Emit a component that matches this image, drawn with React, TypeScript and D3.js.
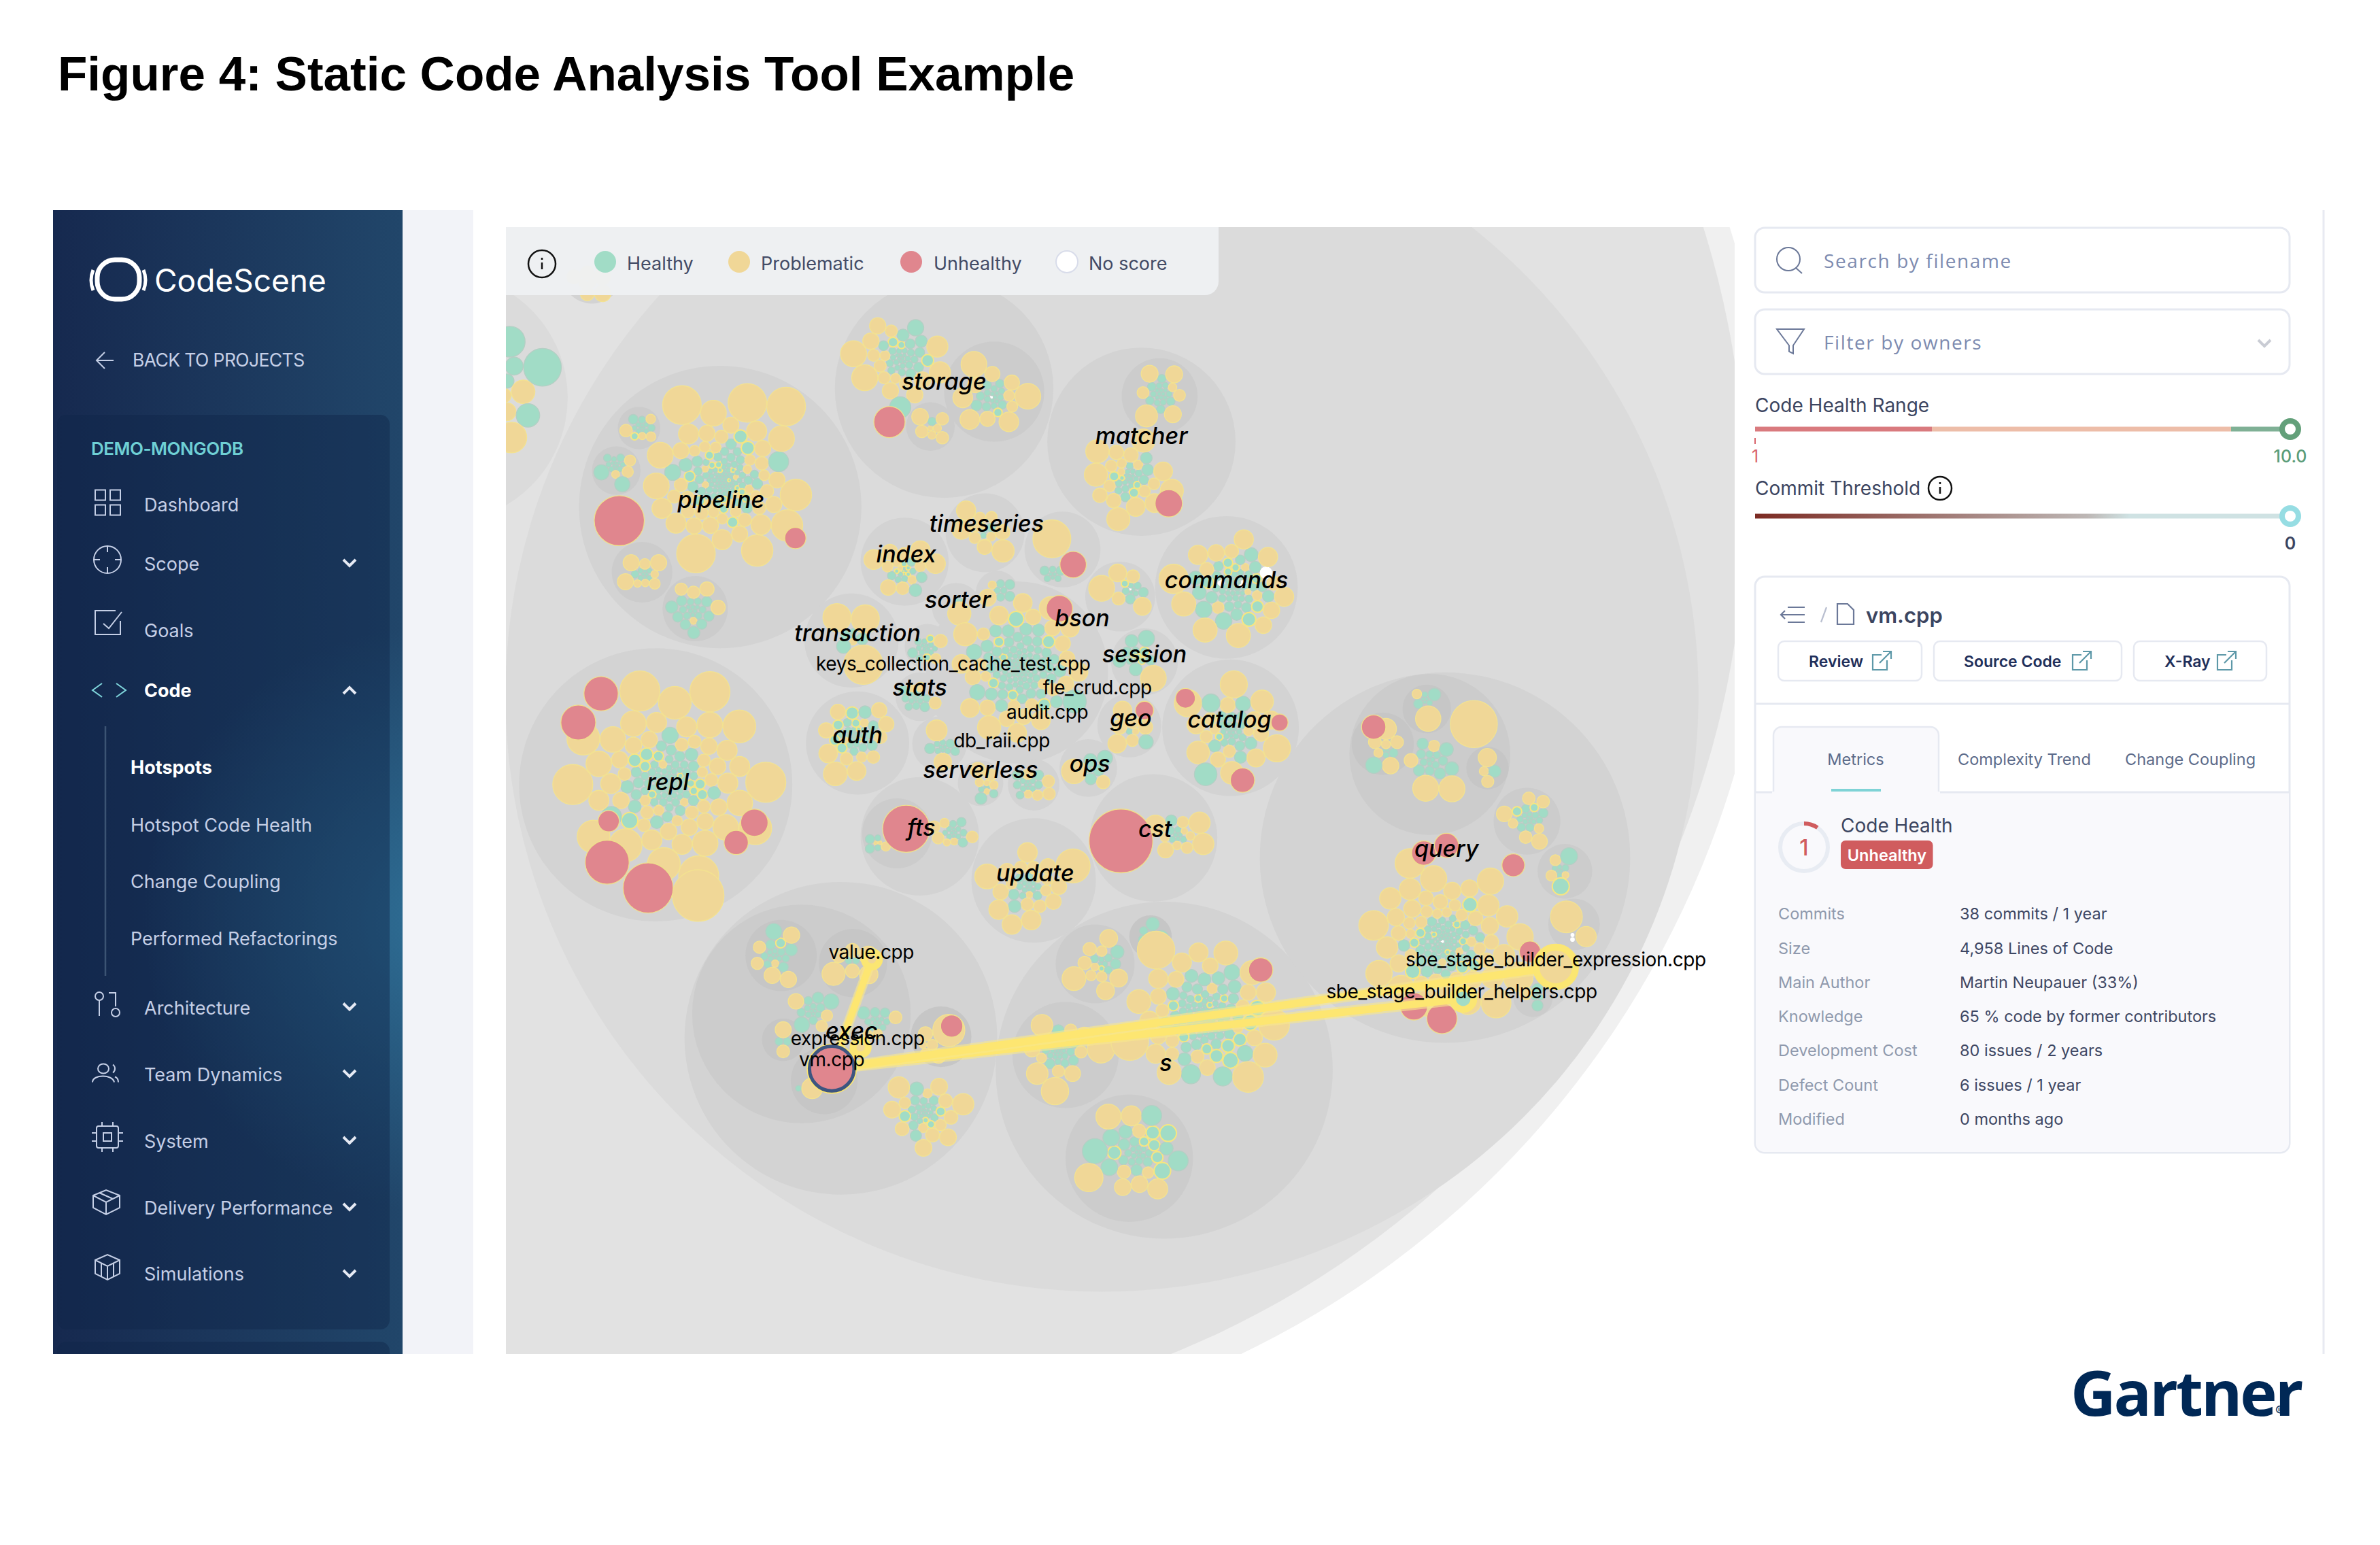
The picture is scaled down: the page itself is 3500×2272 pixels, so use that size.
import React from 'react';
import * as d3 from 'd3';

// picture is read in 1568-wide units, the scale takes it to the 3500 wide page
const u = d3.scaleLinear().domain([0, 1568]).range([0, 3500]);

type Tier = [number, string];
type Group = [number, number, number, Tier[]];

const shades = ['#f0f0f0', '#e2e2e2', '#dbdbdb', '#d3d3d3', '#cccccc', '#c6c6c6'];
const healthFill: Record<string, string> = { g: '#a1dcc6', G: '#a1dcc6', y: '#f0d797', r: '#e0868e', w: '#ffffff' };
const healthStroke: Record<string, string> = { g: '#b4cfc4', G: '#f6e680', y: '#f3e290', r: '#efe08c', w: '#ffffff' };

// cx, cy, r, level
const folders: number[][] = [
  [550, 335, 618, 0], [545, 331, 605, 1], [726, 458, 393, 2], [292, 262, 82, 2], [390, 180, 20, 3],
  [474.5, 334, 93, 3], [421, 282, 14, 4], [406, 310, 16, 4], [423, 377, 20, 4], [458, 401, 21.5, 4],
  [622, 256, 72, 3], [655, 258, 33, 4], [613, 281, 16, 4], [752, 291, 62, 3], [764, 261, 25, 4],
  [596, 370, 29, 3], [649, 351, 26, 3], [700, 362, 25, 3], [630, 400, 16, 3], [657, 390, 14, 3],
  [670, 443, 60, 3], [561, 422, 31, 3], [611, 426, 15, 3], [606, 459, 16, 3], [565, 489.5, 34, 3],
  [619, 490, 18, 3], [646, 516, 15, 3], [681, 517, 17, 3], [717, 506, 19, 3], [744, 478, 21, 3],
  [754, 436, 22, 3], [738, 393, 23, 3], [808, 387, 47, 3], [810.7, 479.5, 45, 3], [760, 552, 42, 3],
  [606, 551, 39, 3], [591, 549, 23, 4], [681, 580, 41, 3], [432, 517, 90, 3],
  [554, 684, 103, 3], [528, 668, 72, 4], [514.6, 629.5, 23.5, 5], [562, 634.5, 22.5, 5], [543, 712, 22, 5],
  [516, 685, 14, 5], [620, 683, 20, 5],
  [767, 705, 111, 3], [721.5, 635, 26, 4], [702, 695, 35, 4], [758, 617, 14, 5], [744, 763, 42, 4],
  [952, 565, 122, 3], [942, 497, 53, 4], [911, 490, 20.5, 5], [940, 467, 16, 5], [980, 506, 14, 5],
  [1006, 541, 22, 4], [1031, 574, 18, 4], [1037, 609, 17, 4], [1010, 657, 13, 4],
];

// files of each module: [size, one health letter per file]
const fileGroups: Group[] = [
  [316, 255, 56, [[1.6, 'gggggggg'], [2.3, 'gggggggyg'], [3, 'gggygyggy'], [3.8, 'gygggyyg'], [5, 'yygyg'], [6.5, 'yygyg'], [8, 'g']]],
  [388, 188, 16, [[3, 'yy'], [5, 'yyy'], [6, 'yy']]],
  [483, 313, 70, [[1.1, 'gggggggggGggggggggggggggggggg'], [1.6, 'ggGgggygggGggggggggGgg'], [2.2, 'gGggygGggygGgGgygg'], [2.9, 'gyGggyggGggyGgygGgg'], [3.7, 'ggyyGgyyGgyyGyygy'], [4.6, 'yyGyyygyyyGyy'], [5.6, 'yyyyyygyyy'], [7, 'yygyyyy'], [9, 'yyyy'], [11, 'yyy'], [13.5, 'yyyy']]],
  [421, 282, 13, [[1, 'gggg'], [1.6, 'ggggg'], [2.6, 'gyGg'], [3.4, 'yyg'], [4.5, 'y']]],
  [406, 310, 15, [[1, 'gggggg'], [1.8, 'ggggg'], [2.8, 'gyg'], [4, 'yy'], [5.5, 'gg']]],
  [423, 377, 18, [[1.2, 'gggg'], [1.8, 'gggg'], [2.8, 'gyyy'], [4, 'yy'], [6, 'yyy']]],
  [458, 401, 20, [[1.2, 'gggggg'], [2, 'ggggggy'], [3, 'gggggg'], [3.6, 'yygg'], [4.2, 'yy']]],
  [590, 239, 37, [[1, 'ggggggg'], [1.6, 'ggggggg'], [2.2, 'gggggGgg'], [3, 'ggGygygg'], [3.7, 'yyggyyGy'], [5, 'yyygyy'], [6.5, 'gyy'], [8, 'yy']]],
  [655, 258, 31, [[0.8, 'w'], [1.3, 'ggggg'], [2, 'gggggg'], [2.8, 'gggGgg'], [3.6, 'yyg'], [5, 'yyyy'], [6.5, 'yyy'], [8.5, 'yy']]],
  [613, 281, 15, [[1.8, 'y'], [3, 'yyg'], [4.5, 'yyy'], [6, 'y']]],
  [745, 315, 36, [[1.1, 'ggggggg'], [1.7, 'gGgggg'], [2.4, 'gGgyggg'], [3.2, 'gGgyGy'], [4, 'yygyyg'], [5, 'yyyy'], [6.5, 'yyy'], [8, 'yyyyy']]],
  [764, 261, 23, [[1.1, 'gggggggg'], [1.7, 'gggggg'], [2.5, 'ggyggg'], [3.5, 'yy'], [5, 'yyy'], [6.5, 'y']]],
  [596, 370, 27, [[1, 'GgGg'], [1.6, 'yGGgG'], [2.2, 'gggG'], [3, 'gyyg'], [3.8, 'yyg'], [4.5, 'yyg'], [5.5, 'yy'], [7, 'yyy']]],
  [649, 350, 25, [[1.2, 'gg'], [2, 'gy'], [3, 'ygy'], [3.8, 'yyy'], [5, 'yy'], [6.5, 'yy'], [7.5, 'y']]],
  [693.5, 376, 8.5, [[1, 'ggg'], [1.8, 'ggg'], [2.6, 'gg']]],
  [632, 403, 9, [[1, 'gg'], [7, 'y']]],
  [657, 390, 13, [[2, 'gg'], [2.6, 'ggy'], [3.2, 'gg'], [5.5, 'y']]],
  [672, 440, 52, [[1, 'gggggggggggggggggggggggg'], [1.4, 'gggggggggggggggggggggg'], [2, 'gggggGgggggggggggggg'], [2.7, 'ggGgggygggGggggyggGg'], [3.4, 'yggGyggyggyggGyg'], [4.3, 'yygyyGyygyyy'], [5.2, 'yyyyyyyy'], [6.5, 'gyyy']]],
  [561, 424, 29, [[1.1, 'gg'], [2.4, 'yg'], [3.3, 'g'], [4.2, 'g'], [5, 'g'], [10, 'yy'], [14, 'y']]],
  [611, 426, 14, [[1, 'ggggg'], [1.5, 'gggggg'], [2.1, 'GGgg'], [3, 'gy'], [4, 'y']]],
  [606, 459, 15, [[1, 'ggg'], [1.6, 'ggggg'], [2.3, 'ggggy'], [3, 'ygg'], [3.8, 'y']]],
  [564, 490, 32, [[0.9, 'gggggg'], [1.3, 'GggggG'], [1.8, 'gggggy'], [2.4, 'gGgggyg'], [3, 'yGGgGg'], [3.7, 'yyGgy'], [4.5, 'yyyy'], [5.5, 'yy'], [7, 'y']]],
  [619, 491, 17, [[1, 'ggg'], [1.6, 'gggg'], [2.5, 'gg'], [3, 'g'], [5, 'y'], [6, 'y']]],
  [646, 516, 14, [[1, 'gg'], [2, 'yyg'], [3, 'ygy'], [4.2, 'gy'], [5.5, 'y']]],
  [681, 517, 16, [[1, 'gggg'], [1.6, 'gggg'], [2.3, 'ggyg'], [3, 'yygg'], [3.6, 'yy']]],
  [717, 506, 18, [[1.5, 'g'], [3, 'gg'], [3.5, 'gy'], [4, 'g'], [6.5, 'y']]],
  [744, 480, 19, [[1.5, 'gy'], [3, 'yy'], [3.6, 'yyg'], [4.6, 'yy']]],
  [754, 436, 21, [[1, 'GGg'], [1.6, 'gGg'], [2.3, 'gGg'], [3, 'ggg'], [3.8, 'g'], [6, 'y']]],
  [738, 393, 22, [[0.6, 'w'], [1, 'gg'], [1.6, 'gg'], [2.2, 'ggG'], [3, 'gg'], [4, 'yy'], [5.5, 'yy'], [8, 'y']]],
  [808, 387, 45, [[0.9, 'gggggggggwggg'], [1.3, 'ggggwgggggg'], [1.7, 'gggyggggwg'], [2.2, 'gGggggyGg'], [2.8, 'gGggGyggg'], [3.4, 'ygGgwggG'], [4, 'yGggyyg'], [4.8, 'gyyyg'], [5.6, 'yyyy'], [7, 'yyy'], [8.5, 'y']]],
  [811, 480, 42, [[1, 'gggggg'], [1.5, 'gggggg'], [2.1, 'gggggG'], [2.8, 'ggygyg'], [3.5, 'ygggyy'], [4.3, 'yyyyg'], [5.2, 'yyyg'], [6.5, 'yyyg'], [7.8, 'yyy']]],
  [777, 550, 24, [[1.5, 'ggg'], [2.2, 'gggy'], [3, 'gyyy'], [4, 'yyg'], [5.5, 'y'], [7.5, 'yyy']]],
  [578, 556, 9, [[1, 'yy'], [1.6, 'gg'], [2.4, 'gyg']]],
  [628, 548, 17, [[1, 'gggg'], [1.5, 'ggggg'], [2.1, 'gyyg'], [2.8, 'ggy'], [3.5, 'yyy']]],
  [681, 580, 39, [[1, 'gggg'], [1.5, 'gggg'], [2.1, 'ggyg'], [2.8, 'gygg'], [3.4, 'yyyg'], [4, 'yyyyg'], [5, 'yyyyy'], [6.3, 'yyyy'], [8, 'y'], [11, 'y']]],
  [442, 515, 78, [[1, 'gggggggggggggggggggggggg'], [1.5, 'ggGggggggggggggggggg'], [2.1, 'gggGgygggGgggyggGggg'], [2.8, 'gyGgggyggGgygGgyGg'], [3.5, 'yggyGyyggyyGygyy'], [4.5, 'yyGyyygyyyyy'], [5.5, 'yyyyyygyyy'], [7, 'yyyyyyy'], [9, 'yyyyyyy'], [11, 'yyyyy']]],
  [514.6, 629.5, 22, [[1, 'ggg'], [1.6, 'gggg'], [2.4, 'gggyg'], [3.2, 'gGg'], [4, 'yyg'], [5.3, 'yyyg']]],
  [560, 636, 20, [[1.5, 'gg'], [3, 'yyy'], [4, 'yy'], [5, 'y']]],
  [536, 665, 18, [[1, 'ggg'], [1.8, 'gggg'], [2.6, 'gggg'], [3.5, 'gyy'], [4.8, 'gyg']]],
  [579, 672, 15.5, [[1, 'gggggg'], [1.6, 'gggg'], [2.4, 'ggyy'], [3.2, 'gy']]],
  [516, 685, 12, [[2.5, 'gg'], [4, 'y'], [5, 'y']]],
  [533, 717, 9, [[2, 'g'], [7, 'y']]],
  [620, 684, 18, [[2, 'y'], [3, 'yy'], [4, 'yy'], [9, 'y']]],
  [611, 731, 31, [[0.9, 'gggggg'], [1.3, 'ggggg'], [1.8, 'gGggg'], [2.4, 'ggGgg'], [3, 'gGygyg'], [3.7, 'yygG'], [4.5, 'yyyyg'], [5.5, 'yyyy'], [7, 'yy']]],
  [721.5, 635, 25, [[1.2, 'g'], [1.8, 'gGg'], [2.6, 'ggyg'], [3.5, 'gyyy'], [4.5, 'yyg'], [6, 'yyy'], [8, 'y']]],
  [702, 696, 33, [[0.9, 'gggggggg'], [1.4, 'gggggg'], [2, 'gggggg'], [2.7, 'ggggg'], [3.4, 'gggyg'], [4.2, 'ygyy'], [5.5, 'yyy'], [7.5, 'yy'], [9.5, 'yy']]],
  [758, 617, 13, [[0.7, 'w'], [1, 'ggg'], [1.6, 'gg'], [2.8, 'gg'], [4.5, 'ggg']]],
  [791, 667, 63, [[1.1, 'gggggggggggggggggggggggggg'], [1.6, 'gggggGgggggggggggggggg'], [2.2, 'gggGgggggGgggggggg'], [3, 'gGgggyggGggyggGgg'], [3.8, 'gygGggyyGgygGgy'], [4.6, 'yGgyGyyGyygy'], [5.6, 'yyyygyyg'], [7, 'yyyyy'], [9, 'yy'], [11, 'yy']]],
  [744, 763, 39, [[1, 'ggg'], [1.5, 'ggggg'], [2.1, 'gggg'], [2.8, 'gGgg'], [3.4, 'GgGgy'], [4, 'yGggGy'], [5, 'GggyGy'], [6, 'yggy'], [7.5, 'yg'], [8.5, 'y']]],
  [957, 615, 64, [[0.8, 'w'], [1, 'ggggggggggggggggggggggg'], [1.5, 'gggGgggggggGgggggggg'], [2.1, 'ggGggygggGgggygggg'], [2.8, 'gggygGggygGyggyg'], [3.5, 'gyGyygyyGyyg'], [4.4, 'yyGyyyyyGyy'], [5.2, 'yyyyyyyy'], [6.5, 'yyyyyyy'], [8, 'yyyyyyy'], [9, 'yyyy']]],
  [911, 492, 19, [[1, 'gg'], [2, 'g'], [3, 'yyg'], [4.3, 'yy'], [5.5, 'yg'], [7, 'y']]],
  [940, 467, 15, [[1, 'ggg'], [1.8, 'gg'], [3, 'gy'], [4, 'g'], [8, 'y']]],
  [948, 507, 24, [[1, 'g'], [1.5, 'gg'], [2.3, 'gggg'], [3, 'ggg'], [3.7, 'gygg'], [4.5, 'ygg'], [8.5, 'yy']]],
  [980, 506, 13, [[3, 'y'], [4, 'gy'], [6, 'y']]],
  [1006, 541, 21, [[1, 'ggg'], [1.5, 'gggg'], [2, 'ggg'], [2.6, 'gggG'], [3, 'yyGg'], [4, 'yyy'], [5, 'yy']]],
  [1031, 574, 16, [[1, 'gg'], [1.5, 'ggg'], [2.2, 'gy'], [3.5, 'yy'], [5.5, 'gG']]],
  [1010, 657, 10, [[1.5, 'gg'], [3, 'gg'], [3.5, 'y']]],
];

// files that stand out enough to be placed on their own
const hotFiles: [number, number, number, string][] = [
  [408, 343, 16.5, 'r'], [524, 354.5, 7, 'r'], [586, 278, 10.3, 'r'], [770, 331.6, 9, 'r'],
  [693, 355, 12.5, 'y'], [707, 372, 8.7, 'r'], [698, 401, 8.7, 'r'], [754, 468, 6, 'r'],
  [781, 460, 6.5, 'r'], [843, 476, 5.6, 'r'], [818.6, 514, 8, 'r'], [738.5, 554, 21, 'r'],
  [597, 546, 15.5, 'r'], [460, 590, 17, 'y'], [396, 457, 11.3, 'r'], [381, 476, 11.5, 'r'],
  [400, 568, 14.5, 'r'], [427, 585, 16.5, 'r'], [485, 555, 8, 'r'], [497, 542, 9, 'r'], [401, 541, 7, 'r'],
  [627, 676, 7.3, 'r'], [830.6, 639, 8, 'r'], [905, 479, 8, 'r'], [971, 477, 15.5, 'y'],
  [938, 562, 8, 'r'], [953, 557, 8, 'r'], [997, 570, 7.5, 'r'], [1008, 627, 7, 'r'],
  [931.5, 663, 9, 'r'], [950, 671, 10, 'r'], [1032, 604, 10.5, 'y'], [1045, 617, 6.7, 'y'],
  [1036, 616, 1, 'w'], [1036, 619, 1.2, 'w'],
];

const selectedFile = { x: 548, y: 704, r: 15.7 };
// coupled files: x, y, r, health, link width
const coupledFiles: [number, number, number, string, number][] = [
  [574.4, 632, 5, 'y', 4.5], [567, 690, 5, 'y', 4.5], [964, 658, 7, 'g', 5], [1025, 637, 13, 'y', 5],
];

const moduleNames: [string, number, number][] = [
  ['storage', 622, 251], ['pipeline', 475, 329], ['matcher', 752, 287], ['timeseries', 650, 345], ['index', 597, 365],
  ['commands', 808, 382], ['sorter', 631, 395], ['bson', 713, 407], ['transaction', 565, 417], ['session', 754, 431],
  ['stats', 606, 453], ['geo', 745, 473], ['catalog', 810, 474], ['auth', 565, 484], ['serverless', 646, 507],
  ['ops', 718, 503], ['repl', 440, 515], ['fts', 607, 545], ['cst', 761, 546], ['update', 682, 575],
  ['query', 953, 559], ['exec', 561, 679], ['s', 768, 700],
];
const fileNames: [string, number, number][] = [
  ['keys_collection_cache_test.cpp', 628, 437], ['fle_crud.cpp', 723, 453], ['audit.cpp', 690, 469], ['db_raii.cpp', 660, 488],
  ['value.cpp', 574, 627], ['expression.cpp', 565, 684], ['vm.cpp', 548, 698],
  ['sbe_stage_builder_expression.cpp', 1025, 632], ['sbe_stage_builder_helpers.cpp', 963, 653],
];

const legendItems: [string, string, number, number][] = [
  ['Healthy', 'g', 890, 922], ['Problematic', 'y', 1087, 1119], ['Unhealthy', 'r', 1340, 1373], ['No score', 'w', 1569, 1601],
];

const navItems: [string, number, number][] = [
  ['Dashboard', 751.5, 0], ['Scope', 839, 827], ['Goals', 937, 0], ['Architecture', 1492, 1479.5],
  ['Team Dynamics', 1589.5, 1578], ['System', 1688, 1676], ['Delivery Performance', 1786, 1774], ['Simulations', 1883, 1872],
];
const codeSubItems: [string, number][] = [
  ['Hotspots', 1138], ['Hotspot Code Health', 1222.5], ['Change Coupling', 1306], ['Performed Refactorings', 1390],
];

const metricLabels = ['Commits', 'Size', 'Main Author', 'Knowledge', 'Development Cost', 'Defect Count', 'Modified'];
const metricValues = ['38 commits / 1 year', '4,958 Lines of Code', 'Martin Neupauer (33%)', '65 % code by former contributors', '80 issues / 2 years', '6 issues / 1 year', '0 months ago'];
const metricRows = [1351.5, 1403, 1453, 1503, 1553, 1604, 1654];

const actionButtons: [string, number, number, number, number][] = [
  ['Review', 2615, 2826, 2660, 2754], ['Source Code', 2844, 3120, 2888, 3048], ['X-Ray', 3138, 3333, 3183, 3261],
];

function packFiles([cx, cy, r, tiers]: Group) {
  const nodes: any[] = tiers.flatMap(([size, letters]) => [...letters].map(h => ({ r: size + 0.12, size, h })));
  d3.packSiblings(nodes);
  const enc = d3.packEnclose(nodes) as { x: number; y: number; r: number };
  const k = r / enc.r;
  return nodes.map(n => ({ x: cx + (n.x - enc.x) * k, y: cy + (n.y - enc.y) * k, r: n.size * k, h: n.h }));
}

const ui = 'Inter, sans-serif';

const Chevron = ({ x, y, up, color = '#e6eaf4' }: { x: number; y: number; up?: boolean; color?: string }) => (
  <path d={up ? `M${x - 9} ${y + 5}L${x} ${y - 4}L${x + 9} ${y + 5}` : `M${x - 9} ${y - 4}L${x} ${y + 5}L${x + 9} ${y - 4}`} fill="none" stroke={color} strokeWidth={4} />
);

const Info = ({ x, y, r }: { x: number; y: number; r: number }) => (
  <g fill="none" stroke="#111" strokeWidth={2.5}>
    <circle cx={x} cy={y} r={r} />
    <path d={`M${x} ${y - 2}V${y + 8}M${x} ${y - 9}V${y - 6}`} />
  </g>
);

const External = ({ x, y }: { x: number; y: number }) => (
  <path d={`M${x + 13} ${y + 5}H${x}V${y + 27}H${x + 21}V${y + 13}M${x + 10} ${y + 17}L${x + 27} ${y}M${x + 15} ${y}H${x + 27}V${y + 11}`} fill="none" stroke="#5d98a8" strokeWidth={2.2} />
);

function NavIcon({ name, y }: { name: string; y: number }) {
  const c = '#c5cfe6';
  const s = { fill: 'none', stroke: c, strokeWidth: 2 };
  const cx = 158;
  if (name === 'Dashboard') return <g {...s}>{[0, 1].flatMap(i => [0, 1].map(j => <rect key={`${i}${j}`} x={140 + i * 22} y={y - 27 + j * 22} width={15} height={15} />))}</g>;
  if (name === 'Scope') return <g {...s}><circle cx={cx} cy={y - 12} r={20} /><path d={`M${cx} ${y - 32}v9M${cx} ${y + 8}v-9M${cx - 20} ${y - 12}h9M${cx + 20} ${y - 12}h-9`} /></g>;
  if (name === 'Goals') return <g {...s}><path d={`M170 ${y - 35}H140V${y}H177V${y - 20}M152 ${y - 16}l8 7l19 -24`} /></g>;
  if (name === 'Architecture') return <g {...s}><circle cx={146} cy={y - 23} r={6} /><path d={`M146 ${y - 17}V${y + 6}M160 ${y - 28}h10v20`} /><circle cx={170} cy={y + 1} r={6} /></g>;
  if (name === 'Team Dynamics') return <g {...s}><ellipse cx={152} cy={y - 14} rx={8} ry={7} /><path d={`M166 ${y - 20}c4 3 4 9 0 12M136 ${y + 6}c0-12 30-12 32 0M174 ${y + 6}c0-4-2-7-5-8`} /></g>;
  if (name === 'System') return <g {...s}><rect x={142} y={y - 28} width={32} height={32} rx={3} /><rect x={152} y={y - 18} width={12} height={12} /><path d={`M150 ${y - 34}v6M166 ${y - 34}v6M150 ${y + 4}v6M166 ${y + 4}v6M135 ${y - 18}h7M135 ${y - 6}h7M174 ${y - 18}h7M174 ${y - 6}h7`} /></g>;
  if (name === 'Delivery Performance') return <g {...s}><path d={`M137 ${y - 24}L156 ${y - 32}L176 ${y - 24}V${y - 6}L156 ${y + 4}L137 ${y - 6}ZM137 ${y - 24}L156 ${y - 14}L176 ${y - 24}M156 ${y - 14}V${y + 4}M146 ${y - 28}L166 ${y - 19}`} /></g>;
  return <g {...s}><path d={`M140 ${y - 26}L158 ${y - 34}L176 ${y - 26}V${y - 6}L158 ${y + 3}L140 ${y - 6}ZM140 ${y - 26}L158 ${y - 17}L176 ${y - 26}M158 ${y - 17}V${y + 3}M149 ${y - 22}V${y - 2}M167 ${y - 22}V${y - 2}`} /></g>;
}

export default function App() {
  const packed = fileGroups.flatMap(packFiles);
  const leaf = (x: number, y: number, r: number, h: string, key: string) => (
    <circle key={key} cx={u(x)} cy={u(y)} r={u(r)} fill={healthFill[h]} stroke={healthStroke[h]} strokeWidth={h === 'G' ? 2 : 1.3} />
  );
  const link = d3.line();

  return (
    <svg width={3500} height={2272} viewBox="0 0 3500 2272" style={{ position: 'absolute', left: 0, top: 0, display: 'block', background: '#fff' }}>
      <defs>
        <linearGradient id="side" x1="0" y1="0" x2="1" y2="0">
          <stop offset="0" stopColor="#16294f" />
          <stop offset="1" stopColor="#21466a" />
        </linearGradient>
        <radialGradient id="glow" gradientUnits="userSpaceOnUse" cx={640} cy={1350} r={430}>
          <stop offset="0" stopColor="#2f7097" stopOpacity={0.95} />
          <stop offset="1" stopColor="#2f7097" stopOpacity={0} />
        </radialGradient>
        <linearGradient id="commit" x1="0" y1="0" x2="1" y2="0">
          <stop offset="0" stopColor="#7c2a22" />
          <stop offset="0.62" stopColor="#bdb7b5" />
          <stop offset="0.7" stopColor="#cfe2e3" />
          <stop offset="1" stopColor="#cfe2e3" />
        </linearGradient>
        <clipPath id="mapClip"><rect x={744} y={334} width={1807} height={1657} /></clipPath>
      </defs>

      <text x={85} y={133} fontFamily="Liberation Sans, Arial, sans-serif" fontWeight={700} fontSize={71} fill="#000">Figure 4: Static Code Analysis Tool Example</text>

      {/* Sidebar */}
      <rect x={78} y={309} width={514} height={1682} fill="url(#side)" />
      <rect x={78} y={309} width={514} height={1682} fill="url(#glow)" />
      <rect x={84} y={610} width={489} height={1345} rx={14} fill="#10254a" opacity={0.45} />
      <path d="M84 1991V1987a14 14 0 0 1 14-14H559a14 14 0 0 1 14 14V1991Z" fill="#10254a" opacity={0.45} />

      <g fill="none" stroke="#fff">
        <rect x={143} y={382} width={62} height={58} rx={26} strokeWidth={7} />
        <path d="M137 397c-4 10-4 20 0 30M211 397c4 10 4 20 0 30" strokeWidth={5} />
      </g>
      <text x={227} y={429} fontFamily={ui} fontSize={46} fill="#fff">CodeScene</text>
      <path d="M167 530H142M154 518L142 530L154 542" fill="none" stroke="#c5cfe6" strokeWidth={2} />
      <text x={195} y={539} fontFamily={ui} fontSize={26.5} fill="#c5cfe6" letterSpacing={-0.6}>BACK TO PROJECTS</text>
      <text x={134} y={669} fontFamily={ui} fontSize={26} fontWeight={600} fill="#6fd0d5" letterSpacing={-0.5}>DEMO-MONGODB</text>
      {navItems.map(([name, y, cy]) => (
        <g key={name}>
          <NavIcon name={name} y={y - 4} />
          <text x={212} y={y} fontFamily={ui} fontSize={27} fill="#c5cfe6">{name}</text>
          {cy > 0 && <Chevron x={514} y={cy} />}
        </g>
      ))}
      <path d="M150 1005L136 1015L150 1025M171 1005L185 1015L171 1025" fill="none" stroke="#7fd6dc" strokeWidth={2} />
      <text x={212} y={1025} fontFamily={ui} fontSize={27} fontWeight={700} fill="#fff">Code</text>
      <Chevron x={514} y={1015} up />
      <line x1={155} y1={1068} x2={155} y2={1435} stroke="#3c5474" strokeWidth={2.5} />
      {codeSubItems.map(([name, y], i) => (
        <text key={name} x={192} y={y} fontFamily={ui} fontSize={27} fontWeight={i === 0 ? 700 : 400} fill={i === 0 ? '#fff' : '#c5cfe6'}>{name}</text>
      ))}

      <rect x={592} y={309} width={104} height={1682} fill="#f2f3f8" />

      {/* Hotspot map */}
      <g clipPath="url(#mapClip)">
        <rect x={744} y={334} width={1807} height={1657} fill="#fff" />
        {folders.map(([cx, cy, r, level], i) => (
          <circle key={i} cx={u(cx)} cy={u(cy)} r={u(r)} fill={shades[level]} />
        ))}
        {packed.map((f, i) => leaf(f.x, f.y, f.r, f.h, `f${i}`))}
        {hotFiles.map(([x, y, r, h], i) => leaf(x, y, r, h, `h${i}`))}

        {coupledFiles.map(([x, y, , , w], i) => {
          const d = link([[u(selectedFile.x), u(selectedFile.y)], [u(x), u(y)]]) as string;
          return (
            <g key={i} fill="none">
              <path d={d} stroke="#f9e88c" strokeOpacity={0.6} strokeWidth={u(w * 1.5)} />
              <path d={d} stroke="#fde671" strokeWidth={u(w)} />
            </g>
          );
        })}
        {coupledFiles.map(([x, y, r, h], i) => (
          <circle key={i} cx={u(x)} cy={u(y)} r={u(r)} fill={healthFill[h]} stroke="#fbe672" strokeWidth={10} />
        ))}
        <circle cx={u(selectedFile.x)} cy={u(selectedFile.y)} r={u(selectedFile.r)} fill={healthFill.r} stroke="#fbe672" strokeWidth={4} />
        <circle cx={u(selectedFile.x)} cy={u(selectedFile.y)} r={u(selectedFile.r - 1)} fill="none" stroke="#3d5580" strokeWidth={5} />

        {moduleNames.map(([t, x, y]) => (
          <text key={t} x={u(x)} y={u(y)} dy="0.36em" textAnchor="middle" fontFamily={ui} fontStyle="italic" fontWeight={500} fontSize={34} fill="#000">{t}</text>
        ))}
        {fileNames.map(([t, x, y]) => (
          <text key={t} x={u(x)} y={u(y)} dy="0.36em" textAnchor="middle" fontFamily={ui} fontSize={28} fill="#000" letterSpacing={-0.4}>{t}</text>
        ))}

        {/* legend bar */}
        <path d="M744 334H1792V414a20 20 0 0 1 -20 20H744Z" fill="#eef0f3" opacity={0.96} />
      </g>
      <Info x={797} y={388} r={20} />
      {legendItems.map(([t, h, dot, tx]) => (
        <g key={t}>
          <circle cx={dot} cy={385} r={16} fill={healthFill[h]} stroke={h === 'w' ? '#d8dcea' : 'none'} strokeWidth={2} />
          <text x={tx} y={396.5} fontFamily={ui} fontSize={27} fill="#434b66">{t}</text>
        </g>
      ))}

      {/* Right panel */}
      <line x1={3417} y1={309} x2={3417} y2={1991} stroke="#e8eaf2" strokeWidth={3} />
      <g fill="#fff" stroke="#e6e9f1" strokeWidth={3}>
        <rect x={2581} y={335} width={786} height={95} rx={14} />
        <rect x={2581} y={455} width={786} height={95} rx={14} />
      </g>
      <g fill="none" stroke="#6b7898" strokeWidth={2}>
        <circle cx={2630} cy={381} r={17} />
        <path d="M2641 394L2650 402" />
        <path d="M2613 484H2653L2637 508V520L2631 517V508Z" />
      </g>
      <text x={2682} y={394} fontFamily="'Open Sans', sans-serif" fontSize={28} letterSpacing={1.6} fill="#7d8bb0">Search by filename</text>
      <text x={2682} y={514} fontFamily="'Open Sans', sans-serif" fontSize={28} letterSpacing={1.6} fill="#7d8bb0">Filter by owners</text>
      <Chevron x={3330} y={504} color="#c9ccd4" />

      <text x={2581} y={606} fontFamily={ui} fontSize={28} fill="#3c4560">Code Health Range</text>
      <rect x={2581} y={627.5} width={260} height={7} fill="#d97a7e" />
      <rect x={2841} y={627.5} width={440} height={7} fill="#edbda8" />
      <rect x={3281} y={627.5} width={87} height={7} fill="#7fb095" />
      <circle cx={3368} cy={631} r={12} fill="#fff" stroke="#63a07a" strokeWidth={8} />
      <rect x={2580} y={644} width={2} height={9} fill="#d9646c" />
      <text x={2581} y={680} textAnchor="middle" fontFamily={ui} fontSize={25} fill="#d9646c">1</text>
      <text x={3368} y={680} textAnchor="middle" fontFamily={ui} fontSize={25} fontWeight={500} fill="#5b9c78">10.0</text>

      <text x={2581} y={728} fontFamily={ui} fontSize={28} fill="#3c4560">Commit Threshold</text>
      <Info x={2853} y={718} r={17} />
      <rect x={2581} y={755.5} width={787} height={7} fill="url(#commit)" />
      <circle cx={3368} cy={759} r={12} fill="#fff" stroke="#96dde3" strokeWidth={8} />
      <text x={3368} y={808} textAnchor="middle" fontFamily={ui} fontSize={25} fontWeight={600} fill="#3c4560">0</text>

      <rect x={2581} y={848} width={786} height={847} rx={14} fill="#fff" stroke="#e6e9f1" strokeWidth={3} />
      <path d="M2582 1165H3366V1681a13 13 0 0 1 -13 13H2595a13 13 0 0 1 -13 -13Z" fill="#f9f9fc" />
      <line x1={2581} y1={1035} x2={3367} y2={1035} stroke="#e6e9f1" strokeWidth={3} />
      <g fill="none" stroke="#6b7898" strokeWidth={2.2}>
        <path d="M2629 893H2654M2619 904H2654M2629 915H2654M2625 898L2619 904L2625 910" />
        <path d="M2678 915L2686 893" stroke="#b9bfd0" />
        <path d="M2702 888H2717L2726 897V918H2702Z" />
      </g>
      <text x={2744} y={916} fontFamily={ui} fontSize={31} fontWeight={600} fill="#3c4560">vm.cpp</text>
      {actionButtons.map(([t, x0, x1, tx, ix]) => (
        <g key={t}>
          <rect x={x0} y={943} width={x1 - x0} height={58} rx={9} fill="#fff" stroke="#e6e9f1" strokeWidth={2.5} />
          <text x={tx} y={981} fontFamily={ui} fontSize={23} fontWeight={600} fill="#1f2f5a">{t}</text>
          <External x={ix} y={958} />
        </g>
      ))}

      <line x1={2581} y1={1165} x2={3367} y2={1165} stroke="#e6e9f1" strokeWidth={3} />
      <path d="M2608 1166V1081a12 12 0 0 1 12 -12H2839a12 12 0 0 1 12 12V1166" fill="#f9f9fc" stroke="#e6e9f1" strokeWidth={2.5} />
      <rect x={2606} y={1164} width={247} height={4} fill="#f9f9fc" />
      <text x={2729} y={1125} textAnchor="middle" fontFamily={ui} fontSize={23.5} fill="#5c6b8a">Metrics</text>
      <text x={2879} y={1125} fontFamily={ui} fontSize={23.5} fill="#5c6b8a">Complexity Trend</text>
      <text x={3125} y={1125} fontFamily={ui} fontSize={23.5} fill="#5c6b8a">Change Coupling</text>
      <rect x={2693} y={1160} width={73} height={4} fill="#7fd3d6" />

      <circle cx={2653} cy={1246} r={35} fill="none" stroke="#e8ecf3" strokeWidth={6} />
      <path d={d3.arc()({ innerRadius: 32, outerRadius: 38, startAngle: 0, endAngle: 0.6 }) as string} transform="translate(2653 1246)" fill="#d05c5e" />
      <text x={2653} y={1258} textAnchor="middle" fontFamily={ui} fontSize={32} fontWeight={500} fill="#d05c5e">1</text>
      <text x={2707} y={1224} fontFamily={ui} fontSize={28} fill="#3c4560">Code Health</text>
      <rect x={2707} y={1236} width={135.5} height={42} rx={7} fill="#d05c5e" />
      <text x={2775} y={1266} textAnchor="middle" fontFamily={ui} fontSize={23.5} fontWeight={600} fill="#fff">Unhealthy</text>
      {metricRows.map((y, i) => (
        <g key={y} fontFamily={ui} fontSize={23.5}>
          <text x={2615} y={y} fill="#8f99ad">{metricLabels[i]}</text>
          <text x={2882} y={y} fill="#3e4763">{metricValues[i]}</text>
        </g>
      ))}

      <text x={3045} y={2082} fontFamily="'Open Sans', sans-serif" fontWeight={700} fontSize={92} letterSpacing={-3} fill="#002856">Gartner</text>
      <text x={3346} y={2082} fontFamily={ui} fontSize={20} fill="#002856">®</text>
    </svg>
  );
}
